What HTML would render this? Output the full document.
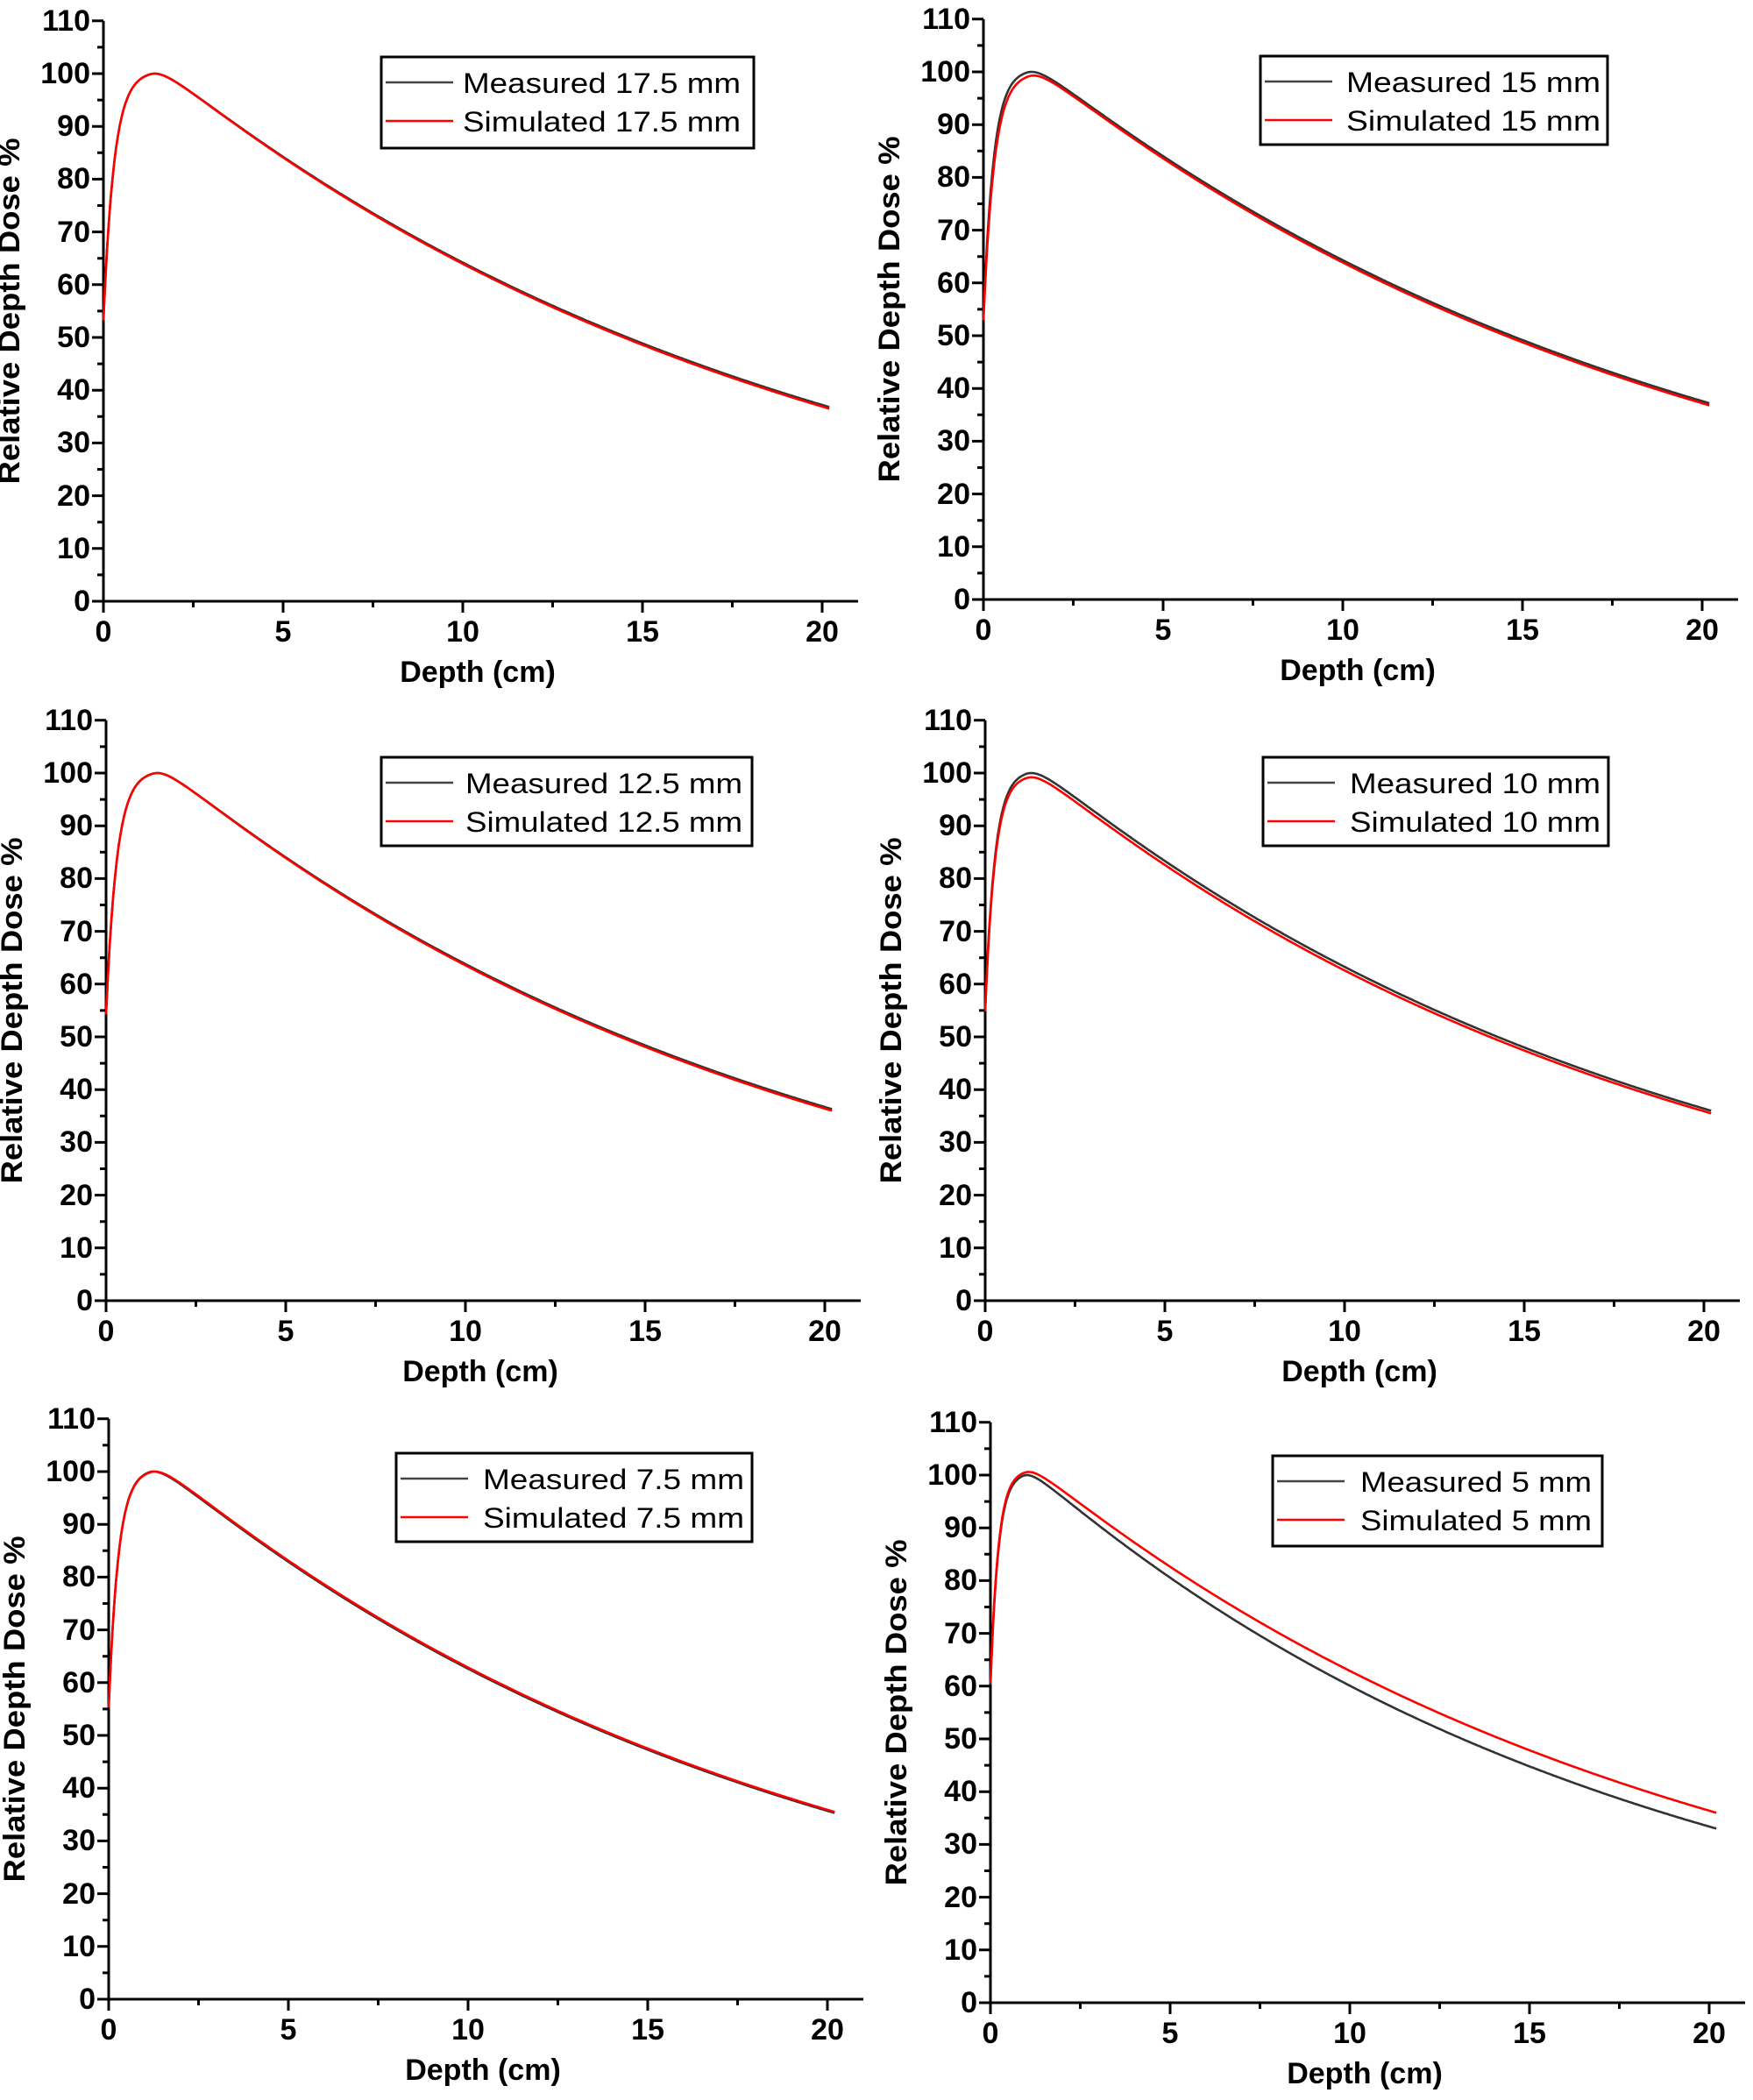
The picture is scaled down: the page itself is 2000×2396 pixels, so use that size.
<!DOCTYPE html>
<html><head><meta charset="utf-8"><style>
html,body{margin:0;padding:0;background:#fff}
svg{display:block}
.t{font-family:"Liberation Sans",Arial,sans-serif;font-weight:bold;font-size:34px;fill:#000}
.yl{text-anchor:end}
.xl{text-anchor:middle}
.lg{font-family:"Liberation Sans",Arial,sans-serif;font-size:32px;fill:#000}
.ax{stroke:#000;stroke-width:3;fill:none}
</style></head><body>
<svg id="s" width="2000" height="2396" viewBox="0 0 2000 2396" xmlns="http://www.w3.org/2000/svg">
<rect width="2000" height="2396" fill="#fff"/>
<g id="p0" transform="translate(118,686)">
<text class="t" x="-96" y="-331" text-anchor="middle" transform="rotate(-90 -96 -331)" textLength="395" lengthAdjust="spacingAndGlyphs">Relative Depth Dose %</text>
<text class="t" x="427" y="92" text-anchor="middle" font-size="35">Depth (cm)</text>
<text class="t yl" x="-15" y="11">0</text><text class="t yl" x="-15" y="-49">10</text><text class="t yl" x="-15" y="-109">20</text><text class="t yl" x="-15" y="-170">30</text><text class="t yl" x="-15" y="-230">40</text><text class="t yl" x="-15" y="-290">50</text><text class="t yl" x="-15" y="-350">60</text><text class="t yl" x="-15" y="-410">70</text><text class="t yl" x="-15" y="-471">80</text><text class="t yl" x="-15" y="-531">90</text><text class="t yl" x="-15" y="-591">100</text><text class="t yl" x="-15" y="-651">110</text>
<text class="t xl" x="0" y="46">0</text><text class="t xl" x="205" y="46">5</text><text class="t xl" x="410" y="46">10</text><text class="t xl" x="615" y="46">15</text><text class="t xl" x="820" y="46">20</text>
<rect x="317" y="-621" width="425" height="104" fill="#fff" stroke="#000" stroke-width="3"/>
<line x1="322" y1="-592" x2="399" y2="-592" stroke="#444" stroke-width="2.5"/><line x1="322" y1="-548" x2="399" y2="-548" stroke="#f00" stroke-width="2.5"/>
<text class="lg" x="410" y="-580" textLength="317" lengthAdjust="spacingAndGlyphs">Measured 17.5 mm</text><text class="lg" x="410" y="-536" textLength="317" lengthAdjust="spacingAndGlyphs">Simulated 17.5 mm</text>
</g>
<g id="p1" transform="translate(1122,684)">
<text class="t" x="-96" y="-331" text-anchor="middle" transform="rotate(-90 -96 -331)" textLength="395" lengthAdjust="spacingAndGlyphs">Relative Depth Dose %</text>
<text class="t" x="427" y="92" text-anchor="middle" font-size="35">Depth (cm)</text>
<text class="t yl" x="-15" y="11">0</text><text class="t yl" x="-15" y="-49">10</text><text class="t yl" x="-15" y="-109">20</text><text class="t yl" x="-15" y="-170">30</text><text class="t yl" x="-15" y="-230">40</text><text class="t yl" x="-15" y="-290">50</text><text class="t yl" x="-15" y="-350">60</text><text class="t yl" x="-15" y="-410">70</text><text class="t yl" x="-15" y="-471">80</text><text class="t yl" x="-15" y="-531">90</text><text class="t yl" x="-15" y="-591">100</text><text class="t yl" x="-15" y="-651">110</text>
<text class="t xl" x="0" y="46">0</text><text class="t xl" x="205" y="46">5</text><text class="t xl" x="410" y="46">10</text><text class="t xl" x="615" y="46">15</text><text class="t xl" x="820" y="46">20</text>
<rect x="316" y="-620" width="396" height="101" fill="#fff" stroke="#000" stroke-width="3"/>
<line x1="321" y1="-591" x2="398" y2="-591" stroke="#444" stroke-width="2.5"/><line x1="321" y1="-547" x2="398" y2="-547" stroke="#f00" stroke-width="2.5"/>
<text class="lg" x="414" y="-579" textLength="290" lengthAdjust="spacingAndGlyphs">Measured 15 mm</text><text class="lg" x="414" y="-535" textLength="290" lengthAdjust="spacingAndGlyphs">Simulated 15 mm</text>
</g>
<g id="p2" transform="translate(121,1484)">
<text class="t" x="-96" y="-331" text-anchor="middle" transform="rotate(-90 -96 -331)" textLength="395" lengthAdjust="spacingAndGlyphs">Relative Depth Dose %</text>
<text class="t" x="427" y="92" text-anchor="middle" font-size="35">Depth (cm)</text>
<text class="t yl" x="-15" y="11">0</text><text class="t yl" x="-15" y="-49">10</text><text class="t yl" x="-15" y="-109">20</text><text class="t yl" x="-15" y="-170">30</text><text class="t yl" x="-15" y="-230">40</text><text class="t yl" x="-15" y="-290">50</text><text class="t yl" x="-15" y="-350">60</text><text class="t yl" x="-15" y="-410">70</text><text class="t yl" x="-15" y="-471">80</text><text class="t yl" x="-15" y="-531">90</text><text class="t yl" x="-15" y="-591">100</text><text class="t yl" x="-15" y="-651">110</text>
<text class="t xl" x="0" y="46">0</text><text class="t xl" x="205" y="46">5</text><text class="t xl" x="410" y="46">10</text><text class="t xl" x="615" y="46">15</text><text class="t xl" x="820" y="46">20</text>
<rect x="314" y="-620" width="423" height="101" fill="#fff" stroke="#000" stroke-width="3"/>
<line x1="319" y1="-591" x2="396" y2="-591" stroke="#444" stroke-width="2.5"/><line x1="319" y1="-547" x2="396" y2="-547" stroke="#f00" stroke-width="2.5"/>
<text class="lg" x="410" y="-579" textLength="316" lengthAdjust="spacingAndGlyphs">Measured 12.5 mm</text><text class="lg" x="410" y="-535" textLength="316" lengthAdjust="spacingAndGlyphs">Simulated 12.5 mm</text>
</g>
<g id="p3" transform="translate(1124,1484)">
<text class="t" x="-96" y="-331" text-anchor="middle" transform="rotate(-90 -96 -331)" textLength="395" lengthAdjust="spacingAndGlyphs">Relative Depth Dose %</text>
<text class="t" x="427" y="92" text-anchor="middle" font-size="35">Depth (cm)</text>
<text class="t yl" x="-15" y="11">0</text><text class="t yl" x="-15" y="-49">10</text><text class="t yl" x="-15" y="-109">20</text><text class="t yl" x="-15" y="-170">30</text><text class="t yl" x="-15" y="-230">40</text><text class="t yl" x="-15" y="-290">50</text><text class="t yl" x="-15" y="-350">60</text><text class="t yl" x="-15" y="-410">70</text><text class="t yl" x="-15" y="-471">80</text><text class="t yl" x="-15" y="-531">90</text><text class="t yl" x="-15" y="-591">100</text><text class="t yl" x="-15" y="-651">110</text>
<text class="t xl" x="0" y="46">0</text><text class="t xl" x="205" y="46">5</text><text class="t xl" x="410" y="46">10</text><text class="t xl" x="615" y="46">15</text><text class="t xl" x="820" y="46">20</text>
<rect x="317" y="-620" width="394" height="101" fill="#fff" stroke="#000" stroke-width="3"/>
<line x1="322" y1="-591" x2="399" y2="-591" stroke="#444" stroke-width="2.5"/><line x1="322" y1="-547" x2="399" y2="-547" stroke="#f00" stroke-width="2.5"/>
<text class="lg" x="416" y="-579" textLength="286" lengthAdjust="spacingAndGlyphs">Measured 10 mm</text><text class="lg" x="416" y="-535" textLength="286" lengthAdjust="spacingAndGlyphs">Simulated 10 mm</text>
</g>
<g id="p4" transform="translate(124,2281)">
<text class="t" x="-96" y="-331" text-anchor="middle" transform="rotate(-90 -96 -331)" textLength="395" lengthAdjust="spacingAndGlyphs">Relative Depth Dose %</text>
<text class="t" x="427" y="92" text-anchor="middle" font-size="35">Depth (cm)</text>
<text class="t yl" x="-15" y="11">0</text><text class="t yl" x="-15" y="-49">10</text><text class="t yl" x="-15" y="-109">20</text><text class="t yl" x="-15" y="-170">30</text><text class="t yl" x="-15" y="-230">40</text><text class="t yl" x="-15" y="-290">50</text><text class="t yl" x="-15" y="-350">60</text><text class="t yl" x="-15" y="-410">70</text><text class="t yl" x="-15" y="-471">80</text><text class="t yl" x="-15" y="-531">90</text><text class="t yl" x="-15" y="-591">100</text><text class="t yl" x="-15" y="-651">110</text>
<text class="t xl" x="0" y="46">0</text><text class="t xl" x="205" y="46">5</text><text class="t xl" x="410" y="46">10</text><text class="t xl" x="615" y="46">15</text><text class="t xl" x="820" y="46">20</text>
<rect x="328" y="-623" width="406" height="101" fill="#fff" stroke="#000" stroke-width="3"/>
<line x1="333" y1="-594" x2="410" y2="-594" stroke="#444" stroke-width="2.5"/><line x1="333" y1="-550" x2="410" y2="-550" stroke="#f00" stroke-width="2.5"/>
<text class="lg" x="427" y="-582" textLength="298" lengthAdjust="spacingAndGlyphs">Measured 7.5 mm</text><text class="lg" x="427" y="-538" textLength="298" lengthAdjust="spacingAndGlyphs">Simulated 7.5 mm</text>
</g>
<g id="p5" transform="translate(1130,2285)">
<text class="t" x="-96" y="-331" text-anchor="middle" transform="rotate(-90 -96 -331)" textLength="395" lengthAdjust="spacingAndGlyphs">Relative Depth Dose %</text>
<text class="t" x="427" y="92" text-anchor="middle" font-size="35">Depth (cm)</text>
<text class="t yl" x="-15" y="11">0</text><text class="t yl" x="-15" y="-49">10</text><text class="t yl" x="-15" y="-109">20</text><text class="t yl" x="-15" y="-170">30</text><text class="t yl" x="-15" y="-230">40</text><text class="t yl" x="-15" y="-290">50</text><text class="t yl" x="-15" y="-350">60</text><text class="t yl" x="-15" y="-410">70</text><text class="t yl" x="-15" y="-471">80</text><text class="t yl" x="-15" y="-531">90</text><text class="t yl" x="-15" y="-591">100</text><text class="t yl" x="-15" y="-651">110</text>
<text class="t xl" x="0" y="46">0</text><text class="t xl" x="205" y="46">5</text><text class="t xl" x="410" y="46">10</text><text class="t xl" x="615" y="46">15</text><text class="t xl" x="820" y="46">20</text>
<rect x="322" y="-624" width="376" height="103" fill="#fff" stroke="#000" stroke-width="3"/>
<line x1="327" y1="-595" x2="404" y2="-595" stroke="#444" stroke-width="2.5"/><line x1="327" y1="-551" x2="404" y2="-551" stroke="#f00" stroke-width="2.5"/>
<text class="lg" x="422" y="-583" textLength="264" lengthAdjust="spacingAndGlyphs">Measured 5 mm</text><text class="lg" x="422" y="-539" textLength="264" lengthAdjust="spacingAndGlyphs">Simulated 5 mm</text>
</g>
</svg>
<script>
(function(){
var NS="http://www.w3.org/2000/svg";
var SX=41, SY=6.02;
function model(P,E,s0,tau,pk,w){
 function g(d,mu){var b=1-(1-s0)*Math.exp(-d/tau);var u=d>pk?Math.sqrt((d-pk)*(d-pk)+w*w)-w:0;return b*Math.exp(-mu*u);}
 function build(mu){var m=0;for(var d=0;d<=4;d+=0.01){var v=g(d,mu);if(v>m)m=v;}return function(d){return P*g(d,mu)/m;};}
 var lo=0.01,hi=0.12,f;
 for(var i=0;i<40;i++){var mid=(lo+hi)/2;f=build(mid);if(f(20.2)>E)lo=mid;else hi=mid;}
 return build((lo+hi)/2);
}
var cfg=[
 [model(100,36.8,0.53,0.3,1.3,0.5),model(100,36.5,0.53,0.3,1.3,0.5)],
 [model(100,37.2,0.53,0.28,1.2,0.5),model(99.3,36.8,0.53,0.3,1.25,0.5)],
 [model(100,36.3,0.54,0.3,1.3,0.5),model(100,36.0,0.54,0.3,1.3,0.5)],
 [model(100,36.0,0.55,0.27,1.15,0.5),model(99.2,35.5,0.55,0.27,1.15,0.5)],
 [model(100,35.3,0.55,0.27,1.1,0.5),model(100,35.5,0.55,0.27,1.15,0.5)],
 [model(100,33,0.60,0.22,0.9,0.35),model(100.6,36,0.60,0.22,0.95,0.4)]
];
for(var p=0;p<6;p++){
 var g=document.getElementById("p"+p);
 var first=g.firstChild;
 var d="M0 0L0 "+(-110*SY)+"M0 0L"+(21*SX)+" 0";
 for(var v=0;v<=110;v+=5){var L=v%10==0?13:7;d+="M0 "+(-v*SY).toFixed(1)+"L"+(-L)+" "+(-v*SY).toFixed(1);}
 for(var x=0;x<=20;x+=2.5){var L=x%5==0?13:7;d+="M"+(x*SX).toFixed(1)+" 0L"+(x*SX).toFixed(1)+" "+L;}
 var a=document.createElementNS(NS,"path");a.setAttribute("d",d);a.setAttribute("class","ax");g.insertBefore(a,first);
 var cols=["#333","#f00"];
 for(var s=0;s<2;s++){var f=cfg[p][s];var pd="";
  for(var x=0;x<=20.2001;x+=0.05){var y=f(x);pd+=(pd?"L":"M")+(x*SX).toFixed(1)+" "+(-y*SY).toFixed(1);}
  var c=document.createElementNS(NS,"path");c.setAttribute("d",pd);c.setAttribute("fill","none");c.setAttribute("stroke",cols[s]);c.setAttribute("stroke-width","2.6");
  g.insertBefore(c,g.querySelector("rect"));}
}
})();
</script>
</body></html>
